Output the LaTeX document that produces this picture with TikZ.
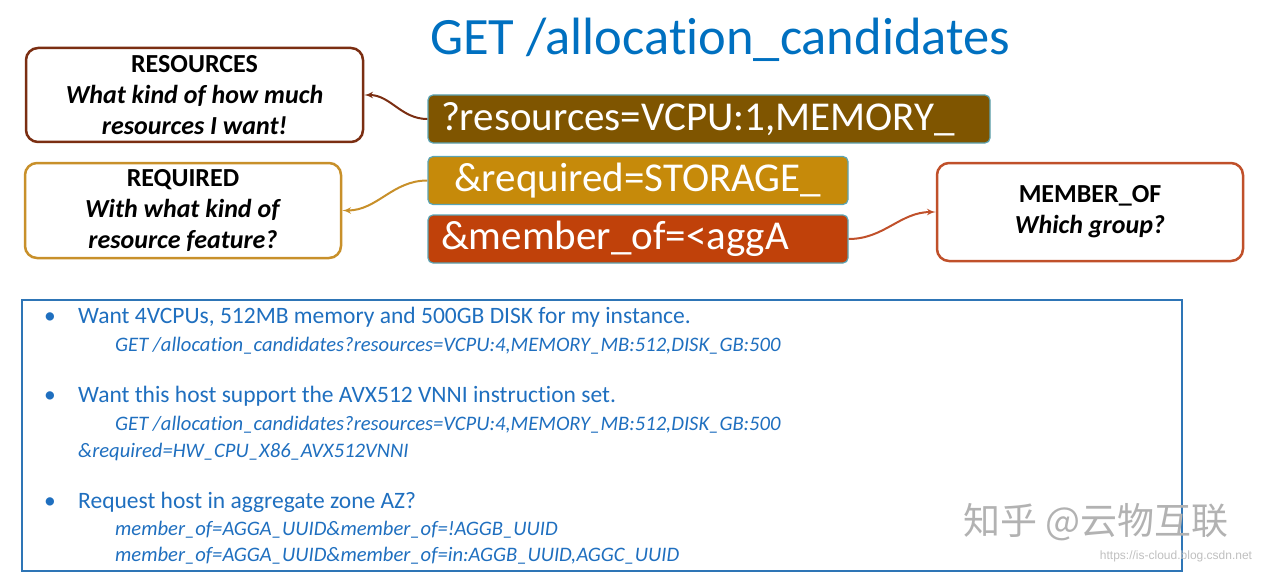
\documentclass[tikz,border=0pt]{standalone}
\usepackage{fontspec}
\setmainfont{Carlito}[Ligatures=NoCommon]
\newfontfamily\cjkfont{Noto Sans CJK SC}
\newfontfamily\wmfont{Liberation Sans}
\usepackage{tikz}
\usetikzlibrary{arrows,positioning}
\definecolor{titleblue}{RGB}{0,112,192}
\definecolor{textblue}{RGB}{31,111,191}
\definecolor{frameblue}{RGB}{46,117,182}
\definecolor{resline}{RGB}{123,46,18}
\definecolor{resfill}{RGB}{127,85,0}
\definecolor{reqline}{RGB}{200,144,42}
\definecolor{reqfill}{RGB}{198,138,10}
\definecolor{memline}{RGB}{192,80,42}
\definecolor{memfill}{RGB}{192,65,10}
\definecolor{barline}{RGB}{91,164,180}
\tikzstyle{note}=[draw, line width=2.5pt, rounded corners=12pt, fill=white, align=center, font=\fontsize{26}{31}\selectfont\bfseries]
\tikzstyle{bar}=[draw=barline, line width=1.2pt, rounded corners=5pt, text=white, align=left, inner xsep=13pt, font=\fontsize{41}{41}\selectfont, minimum height=48pt]
\tikzstyle{link}=[->, line width=2pt]
\tikzstyle{item}=[anchor=base west, inner sep=0pt, text=textblue, font=\fontsize{23.5}{23.5}\selectfont]
\tikzstyle{code}=[anchor=base west, inner sep=0pt, text=textblue, font=\fontsize{20.6}{20.6}\selectfont\itshape]

\begin{document}
\begin{tikzpicture}[x=1pt,y=-1pt,>=latex']
    \useasboundingbox (0,0) rectangle (1263,575);
    \node [anchor=base west, inner sep=0pt, text=titleblue, font=\fontsize{52.5}{52.5}\selectfont] (title) at (430,55) {GET /allocation\_candidates};
    % query string bars
    \node [bar, fill=resfill, text width=536pt] (rb) at (709,119) {?resources=VCPU:1,MEMORY\_};
    \node [bar, fill=reqfill, text width=394pt] (qb) at (638,180.5) {\hspace{13pt}\&required=STORAGE\_};
    \node [bar, fill=memfill, text width=394pt] (mb) at (638,239) {\&member\_of=<aggA};
    % explanation boxes
    \node [note, draw=resline, minimum width=337pt, minimum height=94pt] (rn) at (194.5,95) {RESOURCES\\ \textit{What kind of how much}\\ \textit{resources I want!}};
    \node [note, draw=reqline, minimum width=316pt, minimum height=95pt] (qn) at (183,210.5) {REQUIRED\\ \textit{With what kind of}\\ \textit{resource feature?}};
    \node [note, draw=memline, minimum width=306pt, minimum height=98pt] (mn) at (1090,212) {MEMBER\_OF\\ \textit{Which group?}};
    \draw [link, resline] (rb.west) to[out=180,in=0] (rn.east);
    \draw [link, reqline] (qb.west) to[out=180,in=0] (qn.east);
    \draw [link, memline] (mb.east) to[out=0,in=180] (mn.west);
    % examples
    \node [draw=frameblue, line width=2.5pt, minimum width=1160pt, minimum height=271pt] (ex) at (602,435.5) {};
    \node [item] (b1) at (44,323) {\textbullet};
    \node [item] (t1) at (78,323) {Want 4VCPUs, 512MB memory and 500GB DISK for my instance.};
    \node [code] (c1) at (115,351) {GET /allocation\_candidates?resources=VCPU:4,MEMORY\_MB:512,DISK\_GB:500};
    \node [item] (b2) at (44,402) {\textbullet};
    \node [item] (t2) at (78,402) {Want this host support the AVX512 VNNI instruction set.};
    \node [code] (c2) at (115,430) {GET /allocation\_candidates?resources=VCPU:4,MEMORY\_MB:512,DISK\_GB:500};
    \node [code] (c3) at (78,457) {\&required=HW\_CPU\_X86\_AVX512VNNI};
    \node [item] (b3) at (44,508) {\textbullet};
    \node [item] (t3) at (78,508) {Request host in aggregate zone AZ?};
    \node [code] (c4) at (115,535) {member\_of=AGGA\_UUID\&member\_of=!AGGB\_UUID};
    \node [code] (c5) at (115,561) {member\_of=AGGA\_UUID\&member\_of=in:AGGB\_UUID,AGGC\_UUID};
    % watermark
    \node [text=black!30, font=\cjkfont\fontsize{37}{37}\selectfont] (wm) at (1096,522) {知乎 @云物互联};
    \node [text=black!25, font=\wmfont\fontsize{12}{12}\selectfont] (url) at (1176,556) {https://is-cloud.blog.csdn.net};
\end{tikzpicture}
\end{document}
